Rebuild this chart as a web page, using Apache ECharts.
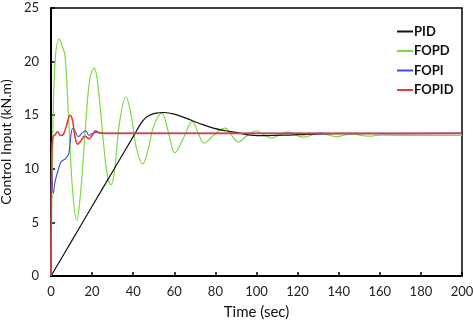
<!DOCTYPE html>
<html><head><meta charset="utf-8">
<script src="https://cdn.jsdelivr.net/npm/echarts@6/dist/echarts.min.js"></script>
<style>html,body{margin:0;padding:0;background:#fff}#c{width:474px;height:326px}</style>
</head><body><div id="c"></div>
<script>
const xTicks = [0,20,40,60,80,100,120,140,160,180,200];
const yTicks = [0,5,10,15,20,25];
const seriesNames = ['PID','FOPD','FOPI','FOPID'];
const pidT = [0,10,20,30,40,44,46,48,51,55,60,66,72,79,85,90,97,105,116,125,140,160,200];
const pidV = [0,3.25,6.5,9.75,13.0,14.3,14.75,15.0,15.2,15.25,15.1,14.7,14.25,13.8,13.55,13.4,13.15,13.1,13.15,13.22,13.27,13.28,13.3];
const fopdT = [0,0.8,2,4,5.5,6.8,8.5,10.5,12.5,14.5,17,19,21,23,25.5,27.5,29.2,31,33.5,36.5,39,41.5,44.6,47.5,50,53.9,57,60.3,64.5,68.8,71.5,74.5,79.5,84.7,88,91.1,95.5,99.8,103.5,107.4,111.5,115.2,119,123,127,131,135,139,143,147,151,155,160,170,180,200];
const fopdV = [0,12,20,22.1,21.4,20.6,15,8,5.2,8,14.5,18.5,19.4,17.5,12.5,9.3,8.5,10,14.5,16.7,15,12,10.45,12,14,15.2,13.5,11.5,12.9,14.4,13.4,12.4,13.2,13.8,13.1,12.5,13.1,13.55,13.2,12.85,13.2,13.45,13.15,12.95,13.15,13.35,13.15,13.0,13.15,13.25,13.12,13.05,13.15,13.12,13.12,13.12];
const fopiT = [0,0.4,1.1,2,3.2,4.9,6,7.3,8.6,9.5,10.5,11.5,13.3,15,16.9,18.5,20,22,25,30,200];
const fopiV = [0,10,7.7,8.8,9.7,10.65,10.8,11.0,11.4,12.8,13.75,13.6,13.0,13.3,13.55,13.1,13.3,13.4,13.3,13.3,13.3];
const fopidT = [0,0.4,1,1.9,3.2,4.7,6,7.5,9.3,10.5,11.5,13,14.5,16.5,18.5,20,21.7,23,26,30,200];
const fopidV = [0,11.5,13,13.15,13.45,13.1,13.2,14.0,15.0,14.5,13.2,12.3,12.6,13.05,12.8,13.1,13.55,13.4,13.3,13.3,13.3];

const zip = (t, v) => t.map((x, i) => [x, v[i]]);
const colors = ['#111111','#78dd44','#3a4fd8','#e43c3c'];
const widths = [1.2, 1.2, 1.1, 1.6];
const datasets = [zip(pidT,pidV), zip(fopdT,fopdV), zip(fopiT,fopiV), zip(fopidT,fopidV)];
const drawOrder = [1,0,2,3];

const chart = echarts.init(document.getElementById('c'));
const font = 'Lato, "Open Sans", sans-serif';
chart.setOption({
  animation: false,
  textStyle: {fontFamily: font},
  grid: {left: 51, right: 12, top: 8, bottom: 50, outerBoundsMode: 'none', containLabel: false, show: true, borderColor: '#000', borderWidth: 1.5, backgroundColor: 'transparent'},
  legend: {
    orient: 'vertical', left: 392, top: 20, itemWidth: 16, itemHeight: 2, itemGap: 6.5,
    icon: 'rect',
    data: seriesNames,
    textStyle: {fontFamily: font, fontSize: 13, fontWeight: 'bold', color: '#111', padding: [0,0,0,-4]}
  },
  xAxis: {
    type: 'value', min: 0, max: 200, interval: 20,
    name: 'Time (sec)', nameLocation: 'middle', nameGap: 29,
    nameTextStyle: {fontSize: 15, color: '#111', fontFamily: font},
    axisLine: {show: true, lineStyle: {color: '#000', width: 2}},
    axisTick: {show: true, inside: true, length: 4, lineStyle: {color: '#000', width: 1.5}},
    axisLabel: {fontSize: 13, color: '#222', margin: 9, formatter: v => xTicks.includes(v) ? String(v) : ''},
    splitLine: {show: false}
  },
  yAxis: {
    type: 'value', min: 0, max: 25, interval: 5,
    name: 'Control Input (kN.m)', nameLocation: 'middle', nameGap: 31,
    nameTextStyle: {fontSize: 14, color: '#111', fontFamily: font},
    axisLine: {show: true, lineStyle: {color: '#000', width: 2}},
    axisTick: {show: true, inside: true, length: 4, lineStyle: {color: '#000', width: 1.5}},
    axisLabel: {fontSize: 13, color: '#222', margin: 12, formatter: v => yTicks.includes(v) ? String(v) : ''},
    splitLine: {show: false}
  },
  series: drawOrder.map(i => ({
    name: seriesNames[i], type: 'line', data: datasets[i], showSymbol: false, symbol: 'none',
    smooth: 0.4, lineStyle: {color: colors[i], width: widths[i]}, itemStyle: {color: colors[i]}, z: 2 + drawOrder.indexOf(i)
  }))
});
</script></body></html>
